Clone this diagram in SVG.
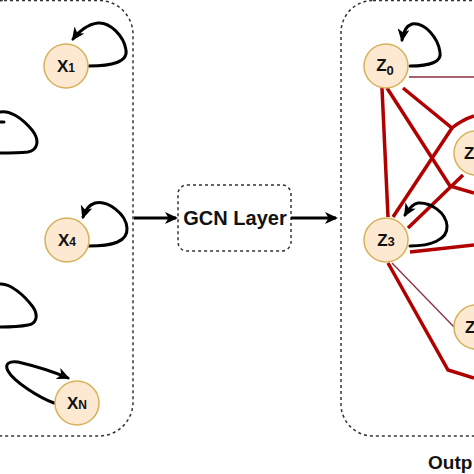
<svg xmlns="http://www.w3.org/2000/svg" width="474" height="474" viewBox="0 0 474 474">
<style>
.box{fill:none;stroke:#333;stroke-width:1.5;stroke-dasharray:3 3}
.node{fill:#fde8d1;stroke:#d6b25a;stroke-width:1.5}
.lbl{font-family:"Liberation Sans",Arial,sans-serif;font-weight:bold;font-size:17px;fill:#111}
.loop{fill:none;stroke:#000;stroke-width:3;stroke-linecap:round}
.red{fill:none;stroke:#b00000;stroke-width:3.5;stroke-linejoin:miter}
.thin{fill:none;stroke:#8e2d3f;stroke-width:1.3}
.arr{fill:none;stroke:#000;stroke-width:3}
</style>
<defs>
<marker id="ah" markerUnits="userSpaceOnUse" markerWidth="14" markerHeight="12" refX="11" refY="6" orient="auto">
<path d="M0,0 L13,6 L0,12 L3.5,6 Z" fill="#000"/>
</marker>
</defs>
<rect class="box" x="-30" y="0.5" width="163" height="435.5" rx="34"/>
<rect class="box" x="341" y="0.5" width="200" height="435.5" rx="32"/>
<g id="gcn">
<rect class="box" x="178" y="185" width="113" height="66" rx="9"/>
<text class="lbl" x="235" y="225" text-anchor="middle" style="font-size:20px">GCN Layer</text>
</g>
<g id="connectors">
<path class="arr" d="M134,218 L176,218" marker-end="url(#ah)"/>
<path class="arr" d="M291,218 L336,218" marker-end="url(#ah)"/>
<path class="thin" d="M409,77 L474,77"/>
<path class="thin" d="M392,263 L454,327"/>
<path class="red" d="M382,88 L388,217"/>
<path class="red" d="M387,88 L450,186 L474,193"/>
<path class="red" d="M403,88 L452,128 Q462,120 474,116"/>
<path class="red" d="M452,128 L393,217"/>
<path class="red" d="M463,175 L408,228"/>
<path class="red" d="M410,252 L474,245"/>
<path class="red" d="M388,263 L448,370 L474,378"/>
<path class="loop" d="M89,66 C112,66 128,62 126,50 C124,36 110,22 98,23 C88,24 78,32 73,39" marker-end="url(#ah)"/>
<path class="loop" d="M89,246 C112,246 128,242 127,228 C126,214 108,200 95,203 C89,205 85,211 83,217" marker-end="url(#ah)"/>
<path class="loop" d="M54,403 C40,398 14,382 8,371 C4,363 10,361 18,362 C35,366 52,371 68,378" marker-end="url(#ah)"/>
<path class="loop" d="M0,112 C10,110 22,118 32,130 C40,140 38,150 28,152 C18,153 8,153 0,153"/>
<path class="loop" d="M0,122 L4,122"/>
<path class="loop" d="M0,284 C10,283 24,295 33,307 C39,316 36,324 28,325 C18,327 8,327 0,327"/>
<path class="loop" d="M410,66 C430,66 442,62 440,52 C438,38 425,22 412,24 C406,26 403,33 402,40" marker-end="url(#ah)"/>
<path class="loop" d="M410,246 C430,246 448,240 447,226 C446,212 430,202 418,203 C412,204 408,210 405,215" marker-end="url(#ah)"/>
</g>
<g id="x1"><circle class="node" cx="66" cy="66" r="22"/><text class="lbl" x="66" y="72" text-anchor="middle">X<tspan style="font-size:12px">1</tspan></text></g>
<g id="x4"><circle class="node" cx="67" cy="240" r="22"/><text class="lbl" x="67" y="246" text-anchor="middle">X<tspan style="font-size:12px">4</tspan></text></g>
<g id="xn"><circle class="node" cx="77" cy="403" r="22"/><text class="lbl" x="77" y="409" text-anchor="middle">X<tspan style="font-size:12px">N</tspan></text></g>
<g id="z0"><circle class="node" cx="386" cy="66" r="22"/><text class="lbl" x="385" y="71" text-anchor="middle">Z<tspan dy="4" style="font-size:13px">0</tspan></text></g>
<g id="z3"><circle class="node" cx="386" cy="240" r="22"/><text class="lbl" x="386" y="246" text-anchor="middle">Z<tspan style="font-size:13px">3</tspan></text></g>
<g id="zr1"><circle class="node" cx="476" cy="153" r="22"/><text class="lbl" x="464" y="159">Z</text></g>
<g id="zr3"><circle class="node" cx="476" cy="327" r="22"/><text class="lbl" x="465" y="333">Z</text></g>
<text class="lbl" x="428" y="469" style="font-size:19px">Outp</text>
</svg>
